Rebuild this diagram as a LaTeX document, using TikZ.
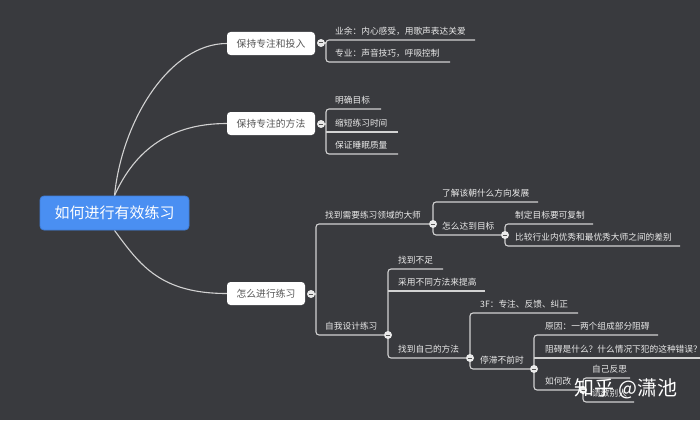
\documentclass[tikz,border=0pt]{standalone}
\usepackage{fontspec}
\setmainfont{Noto Sans CJK SC}
\newfontfamily\cjk{Noto Sans CJK SC}
\pgfdeclarelayer{back}
\pgfdeclarelayer{lines}
\pgfsetlayers{back,lines,main}
\definecolor{bgc}{HTML}{393A3E}
\definecolor{rootc}{HTML}{4A8FF2}
\definecolor{rootb}{HTML}{3F7DD8}
\definecolor{linec}{HTML}{D2D2D2}
\definecolor{leafc}{HTML}{EAEAEA}
\definecolor{boxt}{HTML}{555555}
\tikzset{
  rootbox/.style={draw=rootb, line width=0.8pt, fill=rootc, rounded corners=4pt, minimum width=149pt, minimum height=34pt, inner sep=0pt, text=white, font=\cjk\fontsize{15}{15}\selectfont},
  topicbox/.style={fill=white, rounded corners=3.5pt, minimum height=23pt, inner sep=0pt, text=boxt, font=\cjk\fontsize{9.8}{10}\selectfont},
  leaf/.style={anchor=west, inner sep=0pt, text=leafc, font=\cjk\fontsize{8.7}{9}\selectfont},
  knob/.style={circle, fill=leafc, minimum size=8pt, inner sep=0pt,
    path picture={\draw[boxt, line width=1pt] ([xshift=-2.2pt]path picture bounding box.center) -- ([xshift=2.2pt]path picture bounding box.center);}},
  ln/.style={draw=linec, line width=1.1pt, rounded corners=3pt},
  wm/.style={inner sep=0pt, text=white, font=\cjk\fontsize{20}{20}\selectfont}
}
\begin{document}
\begin{tikzpicture}[x=1pt,y=-1pt]
\begin{pgfonlayer}{back}
\fill[bgc] (0,0) rectangle (700,420);
\end{pgfonlayer}
\useasboundingbox (0,0) rectangle (700,420);

% root and main topics
\node[rootbox] (root) at (114.5,213) {如何进行有效练习};
\node[topicbox, minimum width=88pt] (b1) at (271,43.5) {保持专注和投入};
\node[topicbox, minimum width=88pt] (b2) at (271,123.5) {保持专注的方法};
\node[topicbox, minimum width=78pt] (b3) at (266,293.5) {怎么进行练习};
\node[knob] (k1) at (321,43) {};
\node[knob] (k2) at (321,124) {};
\node[knob] (k3) at (311,294) {};

% branch 1 leaves
\node[leaf] (t11) at (335,31.5) {业余：内心感受，用歌声表达关爱};
\node[leaf] (t12) at (335,53.5) {专业：声音技巧，呼吸控制};
\coordinate (u11s) at (326,40); \coordinate (u11e) at (475,40);
\coordinate (u12s) at (326,62); \coordinate (u12e) at (450,62);

% branch 2 leaves
\node[leaf] (t21) at (335,100.5) {明确目标};
\node[leaf] (t22) at (335,123.5) {缩短练习时间};
\node[leaf] (t23) at (335,145.5) {保证睡眠质量};
\coordinate (u21s) at (326,109); \coordinate (u21e) at (381,109);
\coordinate (u22s) at (326,132); \coordinate (u22e) at (398,132);
\coordinate (u23s) at (326,154); \coordinate (u23e) at (398,154);

% branch 3
\node[leaf] (t31) at (325,215) {找到需要练习领域的大师};
\node[leaf] (t32) at (325,326.5) {自我设计练习};
\coordinate (u31s) at (316,224);
\coordinate (u32s) at (316,335);
\node[knob] (k31) at (433,224) {};
\node[knob] (k32) at (388,335) {};

\node[leaf] (t311) at (442,193) {了解该朝什么方向发展};
\node[leaf] (t312) at (442,226.5) {怎么达到目标};
\coordinate (u311s) at (433,202); \coordinate (u311e) at (538,202);
\coordinate (u312s) at (433,235);
\node[knob] (k312) at (505,235) {};

\node[leaf] (t3121) at (515,215) {制定目标要可复制};
\node[leaf] (t3122) at (515,237.5) {比较行业内优秀和最优秀大师之间的差别};
\coordinate (u3121s) at (505,224); \coordinate (u3121e) at (593,224);
\coordinate (u3122s) at (505,246); \coordinate (u3122e) at (680,246);

\node[leaf] (t321) at (398,260) {找到不足};
\node[leaf] (t322) at (398,282) {采用不同方法来提高};
\node[leaf] (t323) at (398,349.5) {找到自己的方法};
\coordinate (u321s) at (388,269); \coordinate (u321e) at (443,269);
\coordinate (u322s) at (388,291); \coordinate (u322e) at (485,291);
\coordinate (u323s) at (388,358);
\node[knob] (k323) at (470,358) {};

\node[leaf] (t3231) at (480,304.5) {3F：专注、反馈、纠正};
\node[leaf] (t3232) at (480,360.5) {停滞不前时};
\coordinate (u3231s) at (470,313); \coordinate (u3231e) at (578,313);
\coordinate (u3232s) at (470,369);
\node[knob] (k3232) at (534,369) {};

\node[leaf] (t41) at (545,326.5) {原因：一两个组成部分阻碍};
\node[leaf] (t42) at (545,349.5) {阻碍是什么？什么情况下犯的这种错误？};
\node[leaf] (t43) at (545,381.5) {如何改};
\coordinate (u41s) at (534,335); \coordinate (u41e) at (658,335);
\coordinate (u42s) at (534,358); \coordinate (u42e) at (702,358);
\coordinate (u43s) at (534,390);
\node[knob] (k43) at (583,390) {};

\node[leaf] (t431) at (592,369.5) {自己反思};
\node[leaf] (t432) at (592,393.5) {请教别人};
\coordinate (u431s) at (583,378); \coordinate (u431e) at (630,378);
\coordinate (u432s) at (583,402); \coordinate (u432e) at (634,402);

\begin{pgfonlayer}{lines}
% curves from root
\draw[ln] (root.north) .. controls (122,120) and (170,43.5) .. (b1.west);
\draw[ln] (root.north) .. controls (135,150) and (170,123.5) .. (b2.west);
\draw[ln] (root.south) .. controls (140,265) and (160,293.5) .. (b3.west);
% branch 1
\draw[ln] (k1) -- (k1 -| u11s);
\draw[ln] (u11e) -- (u11s) -- (u12s) -- (u12e);
% branch 2
\draw[ln] (k2) -- (k2 -| u21s);
\draw[ln] (u21e) -- (u21s) -- (u23s) -- (u23e);
\draw[ln] (u22s) -- (u22e);
% branch 3
\draw[ln] (k3) -- (k3 -| u31s);
\draw[ln] (k31) -- (u31s) -- (u32s) -- (k32);
\draw[ln] (u311e) -- (u311s) -- (u312s) -- (k312);
\draw[ln] (u3121e) -- (u3121s) -- (u3122s) -- (u3122e);
\draw[ln] (u321e) -- (u321s) -- (u323s) -- (k323);
\draw[ln] (u322s) -- (u322e);
\draw[ln] (u3231e) -- (u3231s) -- (u3232s) -- (k3232);
\draw[ln] (u41e) -- (u41s) -- (u43s) -- (k43);
\draw[ln] (u42s) -- (u42e);
\draw[ln] (u431e) -- (u431s) -- (u432s) -- (u432e);
\end{pgfonlayer}

% watermark
\node[wm] (wmark) at (626,389) {知乎 @潇池};
\end{tikzpicture}
\end{document}
